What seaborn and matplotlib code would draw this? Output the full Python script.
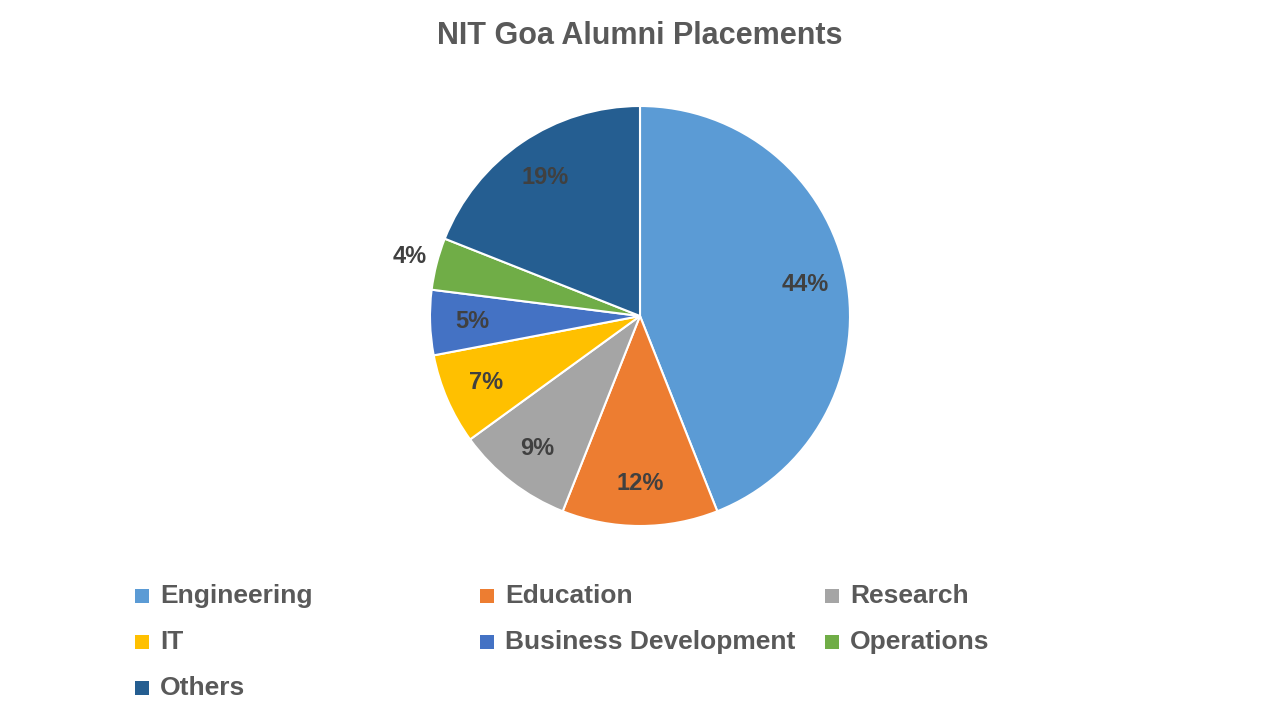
import matplotlib
matplotlib.use("Agg")
import matplotlib.pyplot as plt
import matplotlib.patches as mpatches
import numpy as np
import seaborn as sns

sns.set_theme(style="white")
plt.rcParams['font.family'] = ['Liberation Sans', 'DejaVu Sans']

categories = ['Engineering', 'Education', 'Research', 'IT',
              'Business Development', 'Operations', 'Others']
shares = [44, 12, 9, 7, 5, 4, 19]
colors = ['#5B9BD5', '#ED7D31', '#A5A5A5', '#FFC000',
          '#4472C4', '#70AD47', '#255E91']

fig = plt.figure(figsize=(12.8, 7.2), dpi=100)
fig.patch.set_facecolor('white')

# pie axes: center ~ (640, 316) px, radius ~ 210 px
ax = fig.add_axes([430 / 1280, (720 - 316 - 210) / 720, 420 / 1280, 420 / 720])
wedges, texts, autotexts = ax.pie(
    shares, colors=colors, startangle=90, counterclock=False,
    autopct='%d%%', pctdistance=0.8, radius=1.0,
    wedgeprops=dict(edgecolor='white', linewidth=1.5),
    textprops=dict(color='#404040', fontsize=17, fontweight='bold'))
ax.set_xlim(-1, 1)
ax.set_ylim(-1, 1)
ax.set_aspect('equal')

# small slice label goes outside
for w, t, v in zip(wedges, autotexts, shares):
    if v < 5:
        ang = np.deg2rad((w.theta1 + w.theta2) / 2)
        t.set_position((1.13 * np.cos(ang), 1.13 * np.sin(ang)))

fig.text(0.5, 1 - 36 / 720, 'NIT Goa Alumni Placements', ha='center', va='center',
         fontsize=22, fontweight='bold', color='#595959')

# legend laid out row by row, three columns
col_x = [135, 480, 825]
row_y = [596, 642, 688]
for i, (name, c) in enumerate(zip(categories, colors)):
    x = col_x[i % 3]
    y = row_y[i // 3]
    fig.patches.append(mpatches.Rectangle(
        ((x) / 1280, (720 - y - 7) / 720), 14 / 1280, 14 / 720,
        transform=fig.transFigure, facecolor=c, edgecolor='none'))
    fig.text((x + 25) / 1280, 1 - y / 720, name, ha='left', va='center',
             fontsize=19, fontweight='bold', color='#595959')

fig.savefig('out.png', dpi=100, facecolor='white')
